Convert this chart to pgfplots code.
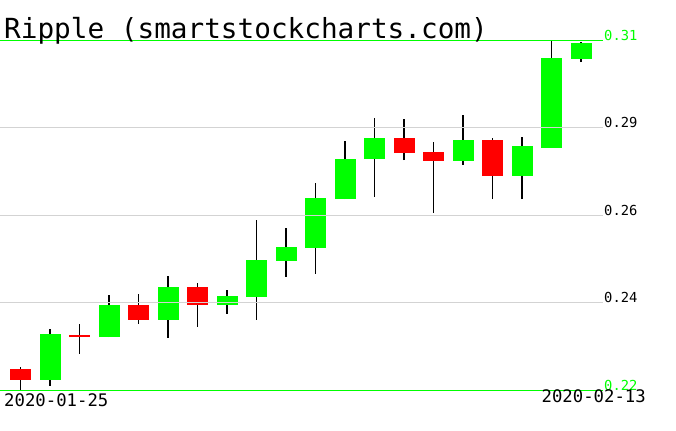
\documentclass[border=0pt]{standalone}
\usepackage{pgfplots}
\pgfplotsset{compat=1.18}
\usepackage{pgfplotstable}
\usepackage{fontspec}
\setmainfont{DejaVu Sans Mono}
\definecolor{cgreen}{RGB}{0,255,0}
\definecolor{cred}{RGB}{255,0,0}
\definecolor{cgrid}{RGB}{211,211,211}

% high/low of every day
\pgfplotstableread{
x lo hi
0 0.2200 0.2259
1 0.2211 0.2357
2 0.2293 0.2370
3 0.2336 0.2444
4 0.2371 0.2447
5 0.2335 0.2493
6 0.2363 0.2475
7 0.2396 0.2457
8 0.2381 0.2637
9 0.2491 0.2617
10 0.2499 0.2732
11 0.2691 0.2840
12 0.2697 0.2900
13 0.2791 0.2897
14 0.2656 0.2838
15 0.2779 0.2907
16 0.2691 0.2849
17 0.2691 0.2851
18 0.2823 0.3100
19 0.3043 0.3096
}\wicks

% bodies, up days (open=lo, close=hi)
\pgfplotstableread{
x lo hi
1 0.2227 0.2344
3 0.2336 0.2419
5 0.2381 0.2465
7 0.2419 0.2442
8 0.2439 0.2534
9 0.2532 0.2568
10 0.2565 0.2694
11 0.2691 0.2794
12 0.2794 0.2849
15 0.2790 0.2843
17 0.2751 0.2828
18 0.2823 0.3054
19 0.3052 0.3093
}\upbodies

% bodies, down days (open=hi, close=lo)
\pgfplotstableread{
x lo hi
0 0.2227 0.2254
2 0.2336 0.2341
4 0.2381 0.2419
6 0.2419 0.2465
13 0.2809 0.2849
14 0.2790 0.2812
16 0.2751 0.2843
}\downbodies

\begin{document}
\begin{tikzpicture}
\path[use as bounding box] (0,-41bp) rectangle (676bp,390bp);
\begin{axis}[
  at={(0,0)}, anchor=south west,
  scale only axis, width=603bp, height=350bp,
  xmin=-0.695, xmax=19.746, ymin=0.22, ymax=0.31,
  axis line style={draw=none},
  xtick=\empty,
  ytick={0.2425,0.265,0.2875},
  yticklabels={0.24,0.26,0.29},
  extra y ticks={0.22,0.31},
  extra y tick labels={0.22,0.31},
  extra y tick style={grid style={cgreen, line width=1bp},
    yticklabel style={text=cgreen}},
  ymajorgrids, grid style={cgrid, line width=1bp},
  yticklabel pos=right,
  major tick length=0pt,
  yticklabel style={anchor=west, inner sep=0pt, xshift=1bp, yshift=5bp,
    font=\fontsize{13.8bp}{14bp}\selectfont},
  /pgf/number format/assume math mode=true,
  axis on top,
  clip=false,
]
\addplot[draw=none, mark=none, error bars/.cd, y dir=plus, y explicit,
  error mark=none, error bar style={draw=black, line width=1.3bp}]
  table[x=x, y=lo, y error plus expr=\thisrow{hi}-\thisrow{lo}] {\wicks};
\addplot[draw=none, mark=none, error bars/.cd, y dir=plus, y explicit,
  error mark=none, error bar style={draw=cgreen, line width=21bp}]
  table[x=x, y=lo, y error plus expr=\thisrow{hi}-\thisrow{lo}] {\upbodies};
\addplot[draw=none, mark=none, error bars/.cd, y dir=plus, y explicit,
  error mark=none, error bar style={draw=cred, line width=21bp}]
  table[x=x, y=lo, y error plus expr=\thisrow{hi}-\thisrow{lo}] {\downbodies};
\end{axis}
\node[anchor=base west, inner sep=0pt] at (4bp,351bp)
  {\fontsize{27.7bp}{30bp}\selectfont Ripple (smartstockcharts.com)};
\node[anchor=west, inner sep=0pt] at (4bp,-10bp)
  {\fontsize{17.3bp}{18bp}\selectfont 2020-01-25};
\node[anchor=east, inner sep=0pt] at (646bp,-6bp)
  {\fontsize{17.3bp}{18bp}\selectfont 2020-02-13};
\end{tikzpicture}
\end{document}
